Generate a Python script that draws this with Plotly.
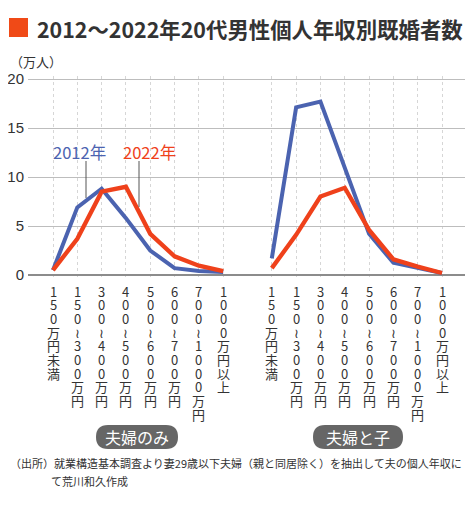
import plotly.graph_objects as go

# ---- data ----
categories = ["150万円未満", "150～300万円", "300～400万円", "400～500万円",
              "500～600万円", "600～700万円", "700～1000万円", "1000万円以上"]
panels = ["夫婦のみ", "夫婦と子"]
couple_only_2012 = [0.5, 6.9, 8.8, 5.8, 2.5, 0.7, 0.4, 0.3]
couple_only_2022 = [0.5, 3.7, 8.5, 9.0, 4.2, 1.9, 0.95, 0.4]
with_child_2012 = [1.7, 17.1, 17.7, 11.0, 4.2, 1.25, 0.7, 0.2]
with_child_2022 = [0.7, 4.1, 8.0, 8.9, 4.6, 1.6, 0.85, 0.2]
y_ticks = [0, 5, 10, 15, 20]
title = "2012～2022年20代男性個人年収別既婚者数"
unit = "（万人）"
source1 = "（出所）就業構造基本調査より妻29歳以下夫婦（親と同居除く）を抽出して夫の個人年収に"
source2 = "て荒川和久作成"

# page body has an 8px margin: figure is drawn at (8, 8) in the window
OFF = 8
W, H = 474 - OFF, 513 - OFF
BLUE = "#4b63b0"
RED = "#ef411b"
TXT = "#333333"
FONT = "Noto Sans CJK JP"

def px(x):
    return (x - OFF) / W

def py(y):
    return 1 - (y - OFF) / H

n = len(categories)
x_left = list(range(n))
x_right = [i + n + 1 for i in range(n)]

fig = go.Figure()
for xs, ys2012, ys2022 in [(x_left, couple_only_2012, couple_only_2022),
                           (x_right, with_child_2012, with_child_2022)]:
    fig.add_trace(go.Scatter(x=xs, y=ys2012, mode="lines",
                             line=dict(color=BLUE, width=4), cliponaxis=False,
                             showlegend=False, hoverinfo="skip"))
    fig.add_trace(go.Scatter(x=xs, y=ys2022, mode="lines",
                             line=dict(color=RED, width=4.3), cliponaxis=False,
                             showlegend=False, hoverinfo="skip"))

scale = (442 - 53) / 16.0
xr = [(28 - 53) / scale, (465 - 53) / scale]

fig.update_layout(
    width=W, height=H, autosize=False,
    margin=dict(l=0, r=0, t=0, b=0, pad=0),
    paper_bgcolor="white", plot_bgcolor="white",
    font=dict(family=FONT, color=TXT),
    xaxis=dict(domain=[px(28), px(465)], range=xr, tickvals=x_left + x_right,
               showticklabels=False, showgrid=True, gridcolor="#d6d6d6",
               griddash="dot", gridwidth=1, zeroline=False, showline=False,
               ticks="", automargin=False),
    yaxis=dict(domain=[py(277.94), py(76.06)], range=[-0.3, 20.3],
               tickvals=y_ticks, showgrid=True, gridcolor="#bdbdbd", gridwidth=1,
               zeroline=True, zerolinecolor="#8c8c8c", zerolinewidth=1.5,
               tickfont=dict(size=15, color=TXT, family="Liberation Sans"),
               ticks="", ticklabelstandoff=3, automargin=False),
)

ann = []
shapes = []
# title
shapes.append(dict(type="rect", xref="paper", yref="paper",
                   x0=px(9), x1=px(28), y0=py(37), y1=py(18),
                   fillcolor="#f04a17", line=dict(width=0)))
ann.append(dict(text="<b>" + title + "</b>", x=px(35), y=py(28), xref="paper", yref="paper",
                xanchor="left", yanchor="middle", showarrow=False,
                font=dict(size=21.4, color=TXT, family=FONT)))
ann.append(dict(text=unit, x=px(8), y=py(62), xref="paper", yref="paper",
                xanchor="left", yanchor="middle", showarrow=False,
                font=dict(size=13, color=TXT)))

# series labels + leaders
ann.append(dict(text="2012年", x=px(79.5), y=py(152), xref="paper", yref="paper",
                xanchor="center", yanchor="middle", showarrow=False,
                font=dict(size=16.5, color=BLUE, family=FONT)))
ann.append(dict(text="2022年", x=px(149.5), y=py(152), xref="paper", yref="paper",
                xanchor="center", yanchor="middle", showarrow=False,
                font=dict(size=16.5, color=RED, family=FONT)))
shapes.append(dict(type="line", xref="paper", yref="paper",
                   x0=px(86), x1=px(86), y0=py(161), y1=py(198),
                   line=dict(color="#555555", width=1)))
shapes.append(dict(type="line", xref="paper", yref="paper",
                   x0=px(139), x1=px(139), y0=py(161), y1=py(207),
                   line=dict(color="#555555", width=1)))

# vertical category labels (one box per character, stacked)
PITCH = 13.7
for xs in (x_left, x_right):
    for xi, lab in zip(xs, categories):
        for j, ch in enumerate(lab):
            ch = "≀" if ch == "～" else ch
            ann.append(dict(text=ch, x=xi, xref="x", y=py(291 + PITCH * j), yref="paper",
                            xanchor="center", yanchor="middle", showarrow=False,
                            font=dict(size=13, color=TXT)))

# panel pills
def pill(x0, x1, y0, y1):
    r = (y1 - y0) / 2.0
    pts = [
        f"M {px(x0 + r)} {py(y0)}",
        f"L {px(x1 - r)} {py(y0)}",
        f"Q {px(x1)} {py(y0)} {px(x1)} {py(y0 + r)}",
        f"Q {px(x1)} {py(y1)} {px(x1 - r)} {py(y1)}",
        f"L {px(x0 + r)} {py(y1)}",
        f"Q {px(x0)} {py(y1)} {px(x0)} {py(y0 + r)}",
        f"Q {px(x0)} {py(y0)} {px(x0 + r)} {py(y0)}",
        "Z",
    ]
    return dict(type="path", xref="paper", yref="paper", path=" ".join(pts),
                fillcolor="#666666", line=dict(width=0))

for (x0, x1), name in zip([(96, 178), (313, 403)], panels):
    shapes.append(pill(x0, x1, 425, 449))
    ann.append(dict(text=name, x=px((x0 + x1) / 2), y=py(437), xref="paper", yref="paper",
                    xanchor="center", yanchor="middle", showarrow=False,
                    font=dict(size=16, color="white")))

# source
ann.append(dict(text=source1, x=px(8), y=py(463), xref="paper", yref="paper",
                xanchor="left", yanchor="middle", showarrow=False,
                font=dict(size=11.0, color=TXT)))
ann.append(dict(text=source2, x=px(49), y=py(481), xref="paper", yref="paper",
                xanchor="left", yanchor="middle", showarrow=False,
                font=dict(size=11.0, color=TXT)))

fig.update_layout(annotations=ann, shapes=shapes)
fig.write_html("out.html")
